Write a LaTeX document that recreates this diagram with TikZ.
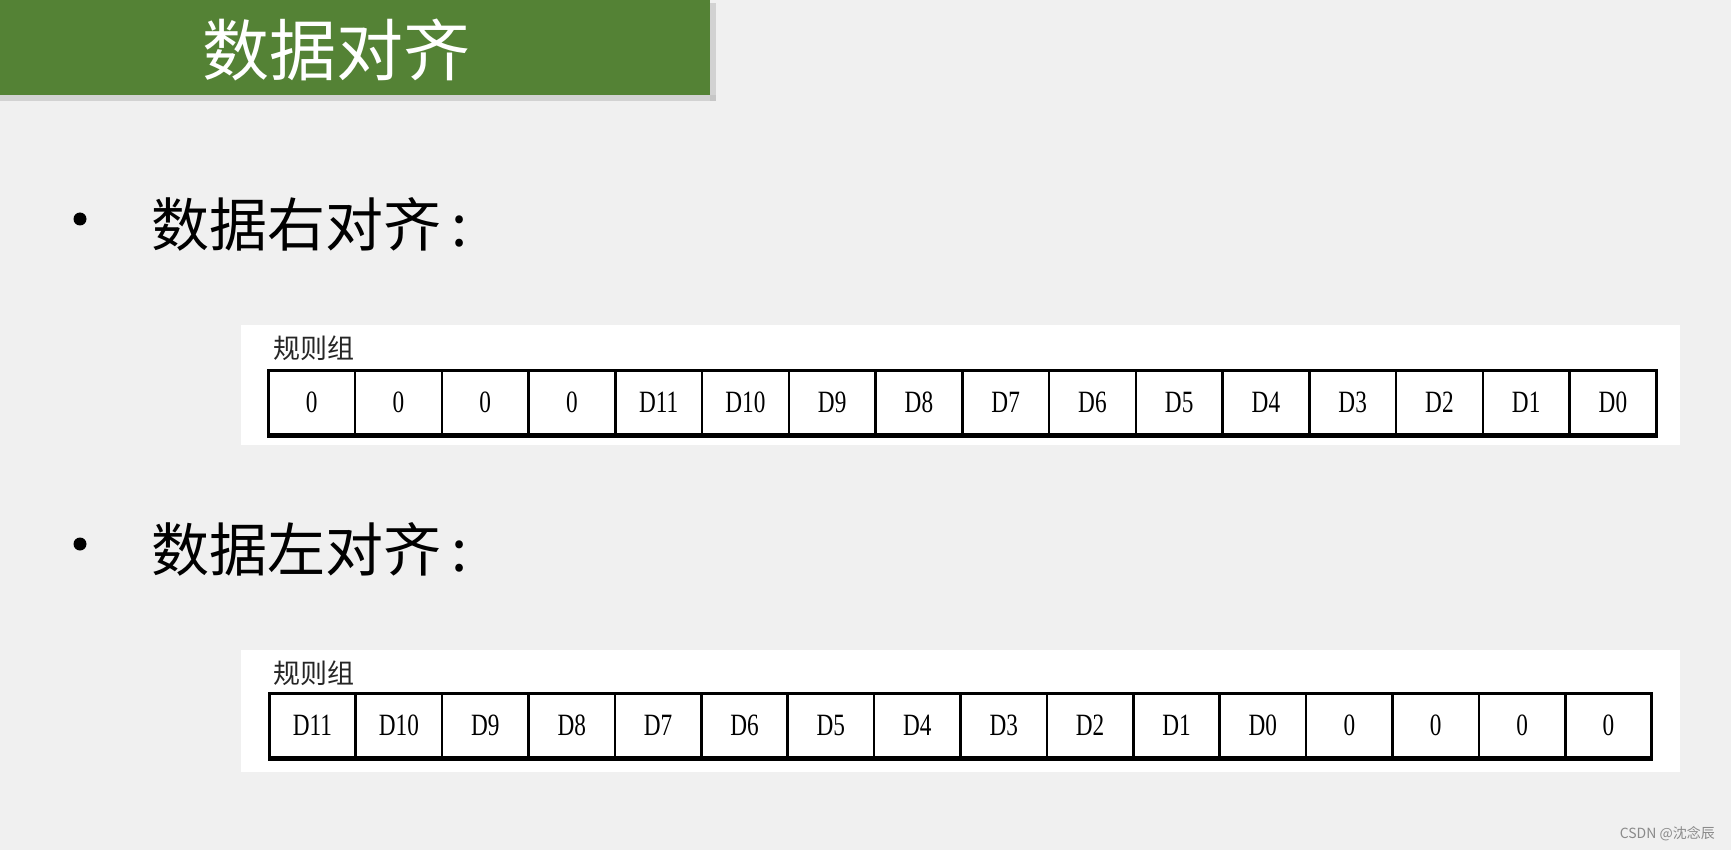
\documentclass[tikz,border=0pt]{standalone}
\usepackage{fontspec}
\newfontfamily\cjk{Noto Sans CJK SC}
\newfontfamily\cellfont[FakeStretch=0.75]{Liberation Serif}
\definecolor{bg}{HTML}{F0F0F0}
\definecolor{titlegreen}{HTML}{548235}
\definecolor{wm}{HTML}{8A8A8A}
\begin{document}
\begin{tikzpicture}[x=1pt,y=-1pt,
  cell/.style={draw, line width=2.6pt, minimum height=64pt, inner sep=0pt,
    fill=white, anchor=north west, font=\cellfont\fontsize{31}{31}\selectfont},
  panel/.style={fill=white},
  heading/.style={font=\cjk\fontsize{58}{58}\selectfont, anchor=west, inner sep=0pt},
  grouplabel/.style={font=\cjk\fontsize{27}{27}\selectfont, anchor=west, inner sep=0pt, text=black!85}]
\useasboundingbox (0,0) rectangle (1731,850);
\fill[bg] (0,0) rectangle (1731,850);
% title bar
\fill[black!25, opacity=0.6] (0,95) rectangle (716,101);
\fill[black!25, opacity=0.6] (710,3) rectangle (716,101);
\fill[titlegreen] (0,0) rectangle (710,95);
\node[font=\cjk\fontsize{67}{67}\selectfont, text=white, inner sep=0pt] (title) at (336,50) {数据对齐};
% bullets
\fill (80,219) circle (6.5);
\node[heading] (h1) at (151,224) {数据右对齐\hspace{10pt}:};
\fill (80,544) circle (6.5);
\node[heading] (h2) at (151,549) {数据左对齐\hspace{10pt}:};
% panel 1
\fill[panel] (241,325) rectangle (1680,445);
\node[grouplabel] (g1) at (273,348) {规则组};
\foreach \t [count=\i] in {0,0,0,0,D11,D10,D9,D8,D7,D6,D5,D4,D3,D2,D1,D0}
  \node[cell, minimum width=86.75pt] (a\i) at ({267+(\i-1)*86.75},369) {\raisebox{-4pt}{\t}};
\draw[line width=5pt] (a1.south west) -- (a16.south east);
% panel 2
\fill[panel] (241,650) rectangle (1680,772);
\node[grouplabel] (g2) at (273,673) {规则组};
\foreach \t [count=\i] in {D11,D10,D9,D8,D7,D6,D5,D4,D3,D2,D1,D0,0,0,0,0}
  \node[cell, minimum width=86.4pt] (b\i) at ({268+(\i-1)*86.4},692) {\raisebox{-4pt}{\t}};
\draw[line width=5pt] (b1.south west) -- (b16.south east);
% watermark
\node[font=\cjk\fontsize{14}{14}\selectfont, text=wm, anchor=east, inner sep=0pt] (wmk) at (1715,834) {CSDN @沈念辰};
\end{tikzpicture}
\end{document}
